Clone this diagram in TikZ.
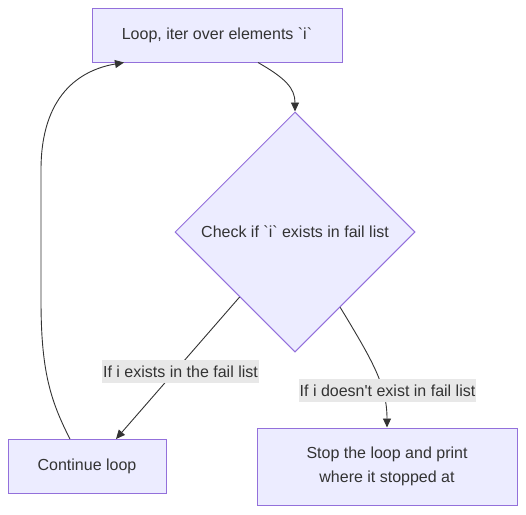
\documentclass[tikz,border=0pt]{standalone}
\usepackage{fontspec}
\setmainfont{Liberation Sans}
\usetikzlibrary{shapes.geometric,arrows.meta,calc}
\definecolor{nfill}{HTML}{ECECFF}
\definecolor{nborder}{HTML}{9370DB}
\definecolor{ntext}{HTML}{333333}
\definecolor{lbg}{HTML}{E8E8E8}
\tikzset{
  box/.style={draw=nborder, fill=nfill, line width=1pt, text=ntext, font=\fontsize{16}{24}\selectfont, inner sep=0pt, align=center},
  dia/.style={diamond, draw=nborder, fill=nfill, line width=1pt, text=ntext, font=\fontsize{16}{24}\selectfont, inner sep=0pt, minimum width=240pt, minimum height=240pt, aspect=1},
  conn/.style={draw=ntext, line width=0.9pt, -{Triangle[length=9pt,width=8pt]}},
  lbl/.style={fill=lbg, text=ntext, font=\fontsize{16}{20}\selectfont, inner sep=1pt, minimum height=23pt}
}
\begin{document}
\begin{tikzpicture}[x=1pt,y=-1pt]
\useasboundingbox (0,0) rectangle (526,514);
\node[box, minimum width=250pt, minimum height=54pt] (loop) at (217,35) {Loop, iter over elements \textasciigrave i\textasciigrave};
\node[dia] (check) at (295,232) {Check if \textasciigrave i\textasciigrave{} exists in fail list};
\node[box, minimum width=158pt, minimum height=54pt] (cont) at (87,466.5) {\raisebox{-2pt}{Continue loop}};
\node[box, minimum width=260pt, minimum height=77pt] (stop) at (387,466.5) {\raisebox{-1pt}{\parbox{240pt}{\centering Stop the loop and print\\where it stopped at}}};

\draw[conn] ($(loop.south)+(41,0)$) .. controls (285,78) and (295,88) .. (check.north);
\draw[conn] ($(check.west)!0.54!(check.south)$) -- ($(cont.north)+(29,0)$);
\draw[conn] ($(check.east)!0.625!(check.south)$) .. controls (372,360) and (387,385) .. (stop.north);
\draw[conn] ($(cont.north)+(-17,0)$) .. controls (50,400) and (41,370) .. (41,300) -- (41,170) .. controls (41,95) and (80,70) .. ($(loop.south)+(-93,0)$);

\node[lbl] (l1) at (180.5,371.5) {If i exists in the fail list};
\node[lbl] (l2) at (387.5,390.5) {If i doesn\textquotesingle t exist in fail list};
\end{tikzpicture}
\end{document}
